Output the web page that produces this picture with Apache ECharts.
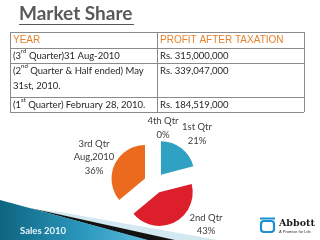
<!DOCTYPE html>
<html>
<head>
<meta charset="utf-8">
<script src="https://cdn.jsdelivr.net/npm/echarts@6/dist/echarts.min.js"></script>
<style>
  html, body { margin: 0; padding: 0; background: #fff; }
  #chart { width: 320px; height: 240px; }
</style>
</head>
<body>
<div id="chart"></div>
<script>
// pie data
const quarters = ['1st Qtr', '2nd Qtr', '3rd Qtr\nAug,2010', '4th Qtr']
const shares = [21, 43, 36, 0]
const sliceColors = ['#2fa2c3', '#dc1f2b', '#ec6a1e', '#8c8c8c']

// table data
const tableHeader = ['YEAR', 'PROFIT AFTER TAXATION']
const periodLabels = [
  '(3{sup|rd} Quarter)31 Aug-2010',
  '(2{sup|nd} Quarter & Half ended) May\n31st, 2010.',
  '(1{sup|st} Quarter) February 28, 2010.'
]
const profitLabels = ['Rs. 315,000,000', 'Rs. 339,047,000', 'Rs. 184,519,000']

// layout
const colX = [10, 157, 304]
const rowY = [32, 48, 63, 97, 112]
const labelSpots = [[197, 134], [206, 224.5], [94, 157], [163, 128]]
const bodyFont = 'Lato'

const chart = echarts.init(document.getElementById('chart'))

const tableParts = []
rowY.forEach(y => {
  tableParts.push({
    type: 'line',
    shape: { x1: colX[0], y1: y + 0.5, x2: colX[2], y2: y + 0.5 },
    style: { stroke: '#8a8a8a', lineWidth: 1 }
  })
})
colX.forEach(x => {
  tableParts.push({
    type: 'line',
    shape: { x1: x + 0.5, y1: rowY[0], x2: x + 0.5, y2: rowY[rowY.length - 1] },
    style: { stroke: '#8a8a8a', lineWidth: 1 }
  })
})
tableHeader.forEach((t, c) => {
  tableParts.push({
    type: 'text',
    x: colX[c] + 3,
    y: (rowY[0] + rowY[1]) / 2 + 0.5,
    style: {
      text: t,
      fontFamily: 'Liberation Sans',
      fontSize: 10,
      fill: '#e5822e',
      verticalAlign: 'middle'
    }
  })
})
const cellRich = {
  sup: { fontFamily: bodyFont, fontSize: 6, lineHeight: 11, verticalAlign: 'top', fill: '#262626' }
}
periodLabels.forEach((t, r) => {
  tableParts.push({
    type: 'text',
    x: colX[0] + 3,
    y: rowY[r + 1] + 0.5,
    style: {
      text: t,
      fontFamily: bodyFont,
      fontSize: 9.5,
      lineHeight: 15,
      fill: '#262626',
      verticalAlign: 'top',
      rich: cellRich
    }
  })
  tableParts.push({
    type: 'text',
    x: colX[1] + 3,
    y: rowY[r + 1] + 0.5,
    style: {
      text: profitLabels[r],
      fontFamily: bodyFont,
      fontSize: 9.5,
      lineHeight: 15,
      fill: '#262626',
      verticalAlign: 'top'
    }
  })
})

// slice labels: name and share of the total, placed like the slide's callouts
const total = shares.reduce((a, b) => a + b, 0)
const sliceLabels = quarters.map((name, i) => ({
  type: 'text',
  z: 10,
  x: labelSpots[i][0],
  y: labelSpots[i][1],
  style: {
    text: name + '\n' + Math.round(shares[i] / total * 100) + '%',
    fontFamily: bodyFont,
    fontSize: 9.5,
    lineHeight: 13.5,
    fill: '#404040',
    align: 'center',
    verticalAlign: 'middle'
  }
}))

// bottom-left swoosh, title underline, footer text and logo
const decor = [
  {
    type: 'polygon', z: 0,
    shape: { points: [[35, 209.5], [60, 212], [218, 240], [175, 240]] },
    style: { fill: '#d3e8f1' }
  },
  {
    type: 'polygon', z: 0,
    shape: { points: [[30, 208], [175, 240], [146, 240]] },
    style: { fill: '#121212' }
  },
  {
    type: 'polygon', z: 0,
    shape: { points: [[0, 200], [148, 240], [0, 240]] },
    style: {
      fill: new echarts.graphic.LinearGradient(0, 0, 1, 0, [
        { offset: 0, color: '#0d6580' },
        { offset: 0.55, color: '#2b97bd' },
        { offset: 1, color: '#5cb9da' }
      ])
    }
  },
  {
    type: 'text', z: 5, x: 20, y: 230.5,
    style: { text: 'Sales 2010', fontFamily: bodyFont, fontWeight: 'bold', fontSize: 9.5, fill: '#e8f4f8', verticalAlign: 'middle' }
  },
  {
    type: 'line',
    shape: { x1: 19, y1: 24.5, x2: 134, y2: 24.5 },
    style: { stroke: '#595959', lineWidth: 1 }
  },
  {
    type: 'rect',
    shape: { x: 261, y: 221, width: 13, height: 11, r: 3 },
    style: { fill: 'none', stroke: '#1b8fd2', lineWidth: 2.2 }
  },
  {
    type: 'line',
    shape: { x1: 260, y1: 218.5, x2: 275, y2: 218.5 },
    style: { stroke: '#1b8fd2', lineWidth: 2 }
  },
  {
    type: 'text', x: 279, y: 224,
    style: { text: 'Abbott', fontFamily: 'DejaVu Serif', fontWeight: 'bold', fontSize: 9.5, fill: '#1a1a1a', verticalAlign: 'middle' }
  },
  {
    type: 'text', x: 279, y: 232,
    style: { text: 'A Promise for Life', fontFamily: 'Liberation Sans', fontSize: 4, fill: '#333', verticalAlign: 'middle' }
  }
]

chart.setOption({
  animation: false,
  backgroundColor: '#fff',
  title: {
    text: 'Market Share',
    left: 19,
    top: 4,
    padding: 0,
    textStyle: {
      fontFamily: bodyFont,
      fontSize: 19,
      fontWeight: 'bold',
      color: '#595959'
    }
  },
  graphic: { elements: tableParts.concat(decor, sliceLabels) },
  series: [
    {
      type: 'pie',
      center: [154.5, 183],
      radius: 33.5,
      startAngle: 90,
      selectedMode: 'multiple',
      selectedOffset: 10.5,
      silent: true,
      label: { show: false },
      labelLine: { show: false },
      itemStyle: { borderWidth: 0 },
      data: quarters.map((name, i) => ({
        name,
        value: shares[i],
        selected: true,
        itemStyle: { color: sliceColors[i] }
      }))
    }
  ]
})
</script>
</body>
</html>
